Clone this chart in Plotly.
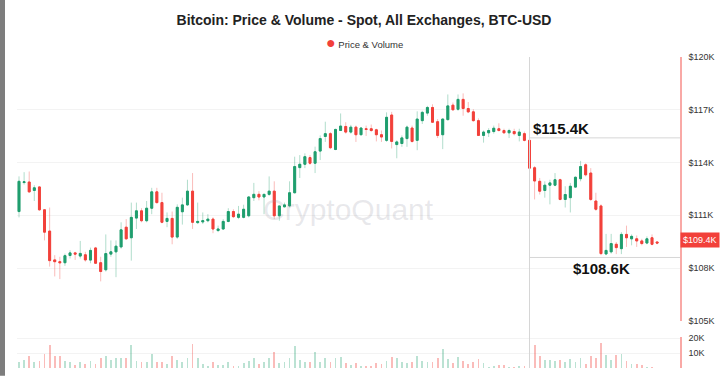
import plotly.graph_objects as go

# ---------------- data (prices in thousands of USD, volume in thousands BTC) -------------
open_k = [111.21,112.86,112.89,112.41,112.61,111.31,110.10,108.46,108.36,108.30,
          108.71,108.86,108.68,108.75,108.45,109.14,108.30,107.90,108.79,108.92,
          109.20,110.32,109.72,110.84,111.25,110.69,111.40,112.33,111.72,110.65,
          110.82,109.76,111.20,111.59,112.37,110.58,110.62,110.69,110.78,110.13,
          110.22,110.65,111.21,110.88,110.88,110.97,112.00,112.19,112.04,112.19,
          112.37,110.97,111.48,111.53,112.28,113.71,113.90,114.28,113.96,114.65,
          115.48,115.64,114.74,115.82,116.05,115.73,116.01,115.58,115.92,115.92,
          115.86,115.58,115.26,116.70,115.02,115.08,115.36,115.96,115.26,116.38,
          116.81,117.13,116.32,115.58,116.44,117.26,117.03,117.59,117.07,116.88,
          116.38,115.54,115.69,115.76,115.92,115.82,115.69,115.76,115.54,115.64,
          115.26,113.70,112.93,112.41,112.71,112.71,113.02,111.90,112.00,112.60,
          113.08,113.87,113.40,111.81,111.53,108.80,108.92,109.35,109.10,109.91,
          109.66,109.66,109.54,109.42,109.72,109.48]
high_k = [113.21,113.45,113.49,112.71,112.65,111.34,111.44,108.73,108.64,108.82,
          109.01,108.92,109.54,108.92,109.16,109.20,108.64,109.91,109.57,109.57,
          110.60,110.78,111.72,111.72,111.40,111.81,112.56,112.56,112.28,111.16,
          111.21,111.62,112.00,113.02,113.40,111.72,111.16,111.06,110.88,110.41,
          110.78,111.40,111.34,111.53,111.60,112.09,112.84,112.37,112.20,113.21,
          112.93,111.53,111.72,112.93,114.33,114.42,114.52,114.42,114.90,115.54,
          116.32,115.73,115.92,116.79,116.29,116.14,116.10,116.01,116.10,116.16,
          115.92,115.82,116.85,116.88,115.26,115.54,116.10,116.10,116.91,116.94,
          117.22,117.31,116.47,116.51,117.87,117.41,117.87,117.93,117.44,117.03,
          116.51,115.82,115.95,116.10,116.23,115.92,115.92,115.92,115.92,115.76,
          115.36,113.80,113.12,112.93,113.02,113.40,113.08,112.65,112.84,113.21,
          114.09,113.96,113.68,112.28,111.62,109.94,109.94,109.48,110.04,110.41,
          109.91,109.85,109.66,109.80,109.91,109.51]
low_k = [110.88,112.74,112.28,111.81,111.25,109.57,108.08,107.52,107.37,108.12,
         108.54,108.46,108.54,108.36,108.27,108.23,107.24,107.80,108.64,107.48,
         109.10,109.61,108.42,110.22,110.60,110.60,111.06,111.66,110.54,110.32,
         109.35,109.66,110.47,111.53,110.22,110.50,110.50,110.60,109.98,110.04,
         110.17,110.60,110.84,110.78,110.82,110.88,111.81,111.85,111.06,112.10,
         110.78,110.69,111.44,111.44,112.24,113.12,113.68,113.87,113.40,114.14,
         115.17,114.76,114.70,115.79,115.64,115.64,115.17,115.54,115.51,115.73,
         115.20,115.17,115.17,114.80,114.24,114.89,114.89,115.13,114.70,116.19,
         116.66,116.25,115.39,114.76,116.38,116.94,116.94,116.66,116.81,116.32,
         115.51,115.13,115.45,115.64,115.76,115.64,115.39,115.54,115.20,115.20,
         113.64,111.90,112.18,112.00,111.62,112.65,111.85,111.44,111.16,112.56,
         112.93,113.21,111.81,111.25,108.73,108.73,108.82,108.79,108.79,109.20,
         109.29,109.20,109.29,109.35,109.29,109.35]
close_k = [112.93,112.90,112.33,112.56,111.31,110.04,108.42,108.36,108.30,108.70,
           108.86,108.79,108.83,108.46,109.00,108.27,107.80,108.82,108.92,109.24,
           110.17,109.66,110.88,111.25,110.69,111.40,112.33,111.72,110.60,110.82,
           109.76,111.45,111.59,112.37,110.60,110.65,110.69,110.78,110.22,110.22,
           110.65,111.21,110.92,111.06,111.34,112.04,112.19,112.04,112.19,112.37,
           110.97,111.53,111.59,112.28,113.77,113.90,114.33,113.96,114.61,115.36,
           115.64,114.84,115.88,116.07,115.73,116.01,115.58,115.96,115.88,115.82,
           115.58,115.45,116.57,115.20,115.17,115.40,116.01,115.20,116.47,116.85,
           117.13,116.29,115.54,116.47,117.22,117.00,117.59,117.07,116.88,116.38,
           115.54,115.73,115.82,115.95,115.82,115.69,115.82,115.64,115.73,115.26,
           113.68,112.95,112.37,112.71,112.84,113.02,111.90,112.18,112.65,113.16,
           113.77,113.30,111.90,111.34,108.82,109.00,109.39,109.16,109.91,109.72,
           109.80,109.54,109.39,109.66,109.35,109.42]
volume_k = [4.4,5.5,8.2,4.0,4.9,10.0,15.5,8.2,8.4,4.9,
            4.0,2.2,4.0,3.3,4.9,3.3,7.1,8.2,5.5,6.7,
            6.7,6.7,15.5,4.9,4.4,4.4,9.6,4.0,4.0,3.3,
            8.2,5.5,4.4,7.3,16.2,7.1,2.9,1.6,4.4,2.2,
            2.2,4.2,1.8,1.8,3.6,5.1,7.3,3.3,4.4,6.7,
            11.1,3.6,4.4,6.7,15.1,5.8,4.4,4.0,11.1,4.0,
            7.3,4.0,6.7,7.8,3.6,2.2,3.6,1.8,1.8,1.8,
            3.6,2.9,5.1,8.0,7.3,4.4,3.6,4.4,8.4,5.1,
            4.0,4.4,7.3,13.3,6.2,3.6,8.0,5.1,3.3,4.4,
            6.2,3.6,1.1,1.8,2.2,2.2,1.3,1.3,1.8,1.8,
            8.4,15.8,8.4,5.5,5.5,4.9,6.0,4.4,6.2,4.4,
            6.7,3.3,8.2,6.7,16.7,9.3,5.5,8.9,10.0,4.9,
            2.7,2.9,2.4,1.3,1.1,0.5]

price_ticks_k = [105, 108, 111, 114, 117, 120]
price_tick_labels = ["$105K", "$108K", "$111K", "$114K", "$117K", "$120K"]
volume_ticks_k = [10, 20]
volume_tick_labels = ["10K", "20K"]

marker_index = 100          # candle where the drop starts
level_high = 115400
level_low = 108600

title_text = "Bitcoin: Price & Volume - Spot, All Exchanges, BTC-USD"
legend_text = "Price & Volume"
watermark_text = "CryptoQuant"

# ---------------- derived --------------------------------------------------------------
n = len(close_k)
xs = list(range(n))
o = [v * 1000 for v in open_k]
h = [v * 1000 for v in high_k]
l = [v * 1000 for v in low_k]
c = [v * 1000 for v in close_k]
vol = [v * 1000 for v in volume_k]
body_top = [max(a, b) for a, b in zip(o, c)]
body_bot = [min(a, b) for a, b in zip(o, c)]

GREEN = "#1f9e6e"
RED = "#f2403a"
GREEN_L = "rgba(31,158,110,0.35)"
RED_L = "rgba(242,64,58,0.35)"
GREEN_V = "rgba(31,158,110,0.30)"
RED_V = "rgba(242,64,58,0.35)"
AXIS_C = "rgba(242,64,58,0.45)"
FONT = "Liberation Sans, Arial, sans-serif"

W, H = 728, 379
ML, MR, MT, MB = 17, 48, 57, 6
plot_w = W - ML - MR
step_px = 5.105
x_first_px = 19
x_min = -(x_first_px - ML) / step_px
x_max = x_min + plot_w / step_px

fig = go.Figure()

# wicks (light)
fig.add_trace(go.Candlestick(
    x=xs, open=o, high=h, low=l, close=c,
    increasing=dict(line=dict(color=GREEN_L, width=1), fillcolor=GREEN_L),
    decreasing=dict(line=dict(color=RED_L, width=1), fillcolor=RED_L),
    whiskerwidth=0, showlegend=False, hoverinfo="skip", yaxis="y"))
# bodies (solid)
fig.add_trace(go.Candlestick(
    x=xs, open=o, high=body_top, low=body_bot, close=c,
    increasing=dict(line=dict(color=GREEN, width=1), fillcolor=GREEN),
    decreasing=dict(line=dict(color=RED, width=1), fillcolor=RED),
    whiskerwidth=0, showlegend=False, name=legend_text, yaxis="y"))
# volume
fig.add_trace(go.Bar(
    x=xs, y=vol, width=0.35,
    marker=dict(color=[GREEN_V if cc >= oo else RED_V for oo, cc in zip(o, c)], line=dict(width=0)),
    showlegend=False, yaxis="y2", hoverinfo="skip"))

plot_h = H - MT - MB
price_bottom_px = 325
vol_top_px = 341
price_dom0 = (H - MB - price_bottom_px) / plot_h
vol_dom1 = (H - MB - vol_top_px) / plot_h

def py(px_from_top):
    return (H - MB - px_from_top) / plot_h

def pxx(px_from_left):
    return (px_from_left - ML) / plot_w

fig.update_layout(
    width=W, height=H,
    margin=dict(l=ML, r=MR, t=MT, b=MB),
    paper_bgcolor="white", plot_bgcolor="white",
    font=dict(family=FONT, color="#333333", size=9),
    title=dict(text="<b>" + title_text + "</b>", x=0.5, xanchor="center",
               y=(H - 20) / H, yanchor="middle",
               font=dict(family=FONT, size=14, color="#222222")),
    showlegend=False,
    boxgap=0.45,
    bargap=0,
    xaxis=dict(range=[x_min, x_max], visible=False, rangeslider=dict(visible=False),
               fixedrange=True),
    yaxis=dict(domain=[price_dom0, 1], range=[105000, 120000], side="right",
               tickvals=[v * 1000 for v in price_ticks_k], ticktext=price_tick_labels,
               showgrid=True, gridcolor="#f3f3f3", gridwidth=1, zeroline=False,
               showline=True, linecolor=AXIS_C, linewidth=1.5,
               ticks="", ticklabelstandoff=5, tickfont=dict(size=9, color="#333333")),
    yaxis2=dict(domain=[0, vol_dom1], range=[0, 21000], side="right",
                tickvals=[v * 1000 for v in volume_ticks_k], ticktext=volume_tick_labels,
                showgrid=True, gridcolor="#f3f3f3", zeroline=False,
                showline=True, linecolor=AXIS_C, linewidth=1.5,
                ticks="", ticklabelstandoff=5, tickfont=dict(size=9, color="#333333")),
)

shapes = [
    dict(type="line", xref="x", yref="paper", x0=marker_index, x1=marker_index, y0=0, y1=1,
         line=dict(color="#d6d6d6", width=1)),
    dict(type="line", xref="x", yref="y", x0=marker_index, x1=x_max, y0=level_high, y1=level_high,
         line=dict(color="#d6d6d6", width=1)),
    dict(type="line", xref="x", yref="y", x0=marker_index, x1=x_max, y0=level_low, y1=level_low,
         line=dict(color="#d6d6d6", width=1)),
    dict(type="rect", xref="paper", yref="paper", x0=pxx(0), x1=pxx(5), y0=py(H + 2), y1=py(-2),
         fillcolor="#7d7d7d", line=dict(width=0), layer="above"),
]
fig.update_layout(shapes=shapes)

annotations = [
    dict(text=watermark_text, xref="paper", yref="paper", x=pxx(348), y=py(212),
         showarrow=False, font=dict(family=FONT, size=30, color="rgba(150,150,165,0.22)")),
    dict(text="<span style='color:%s;font-size:16px'>●</span> %s" % (RED, legend_text),
         xref="paper", yref="paper",
         x=pxx(364), y=py(42), xanchor="center", yanchor="middle", showarrow=False,
         font=dict(family=FONT, size=9.5, color="#333333")),
    dict(text="<b>$%.1fK</b>" % (level_high / 1000), xref="x", yref="y", x=marker_index, y=level_high,
         xanchor="left", yanchor="bottom", xshift=1, yshift=-1, showarrow=False,
         font=dict(family=FONT, size=15, color="#111111")),
    dict(text="<b>$%.1fK</b>" % (level_low / 1000), xref="x", yref="y", x=114.1, y=level_low,
         xanchor="center", yanchor="top", yshift=-1, showarrow=False,
         font=dict(family=FONT, size=15, color="#111111")),
    dict(text="$%.1fK" % (close_k[-1]), xref="paper", yref="y", x=1, y=c[-1],
         xanchor="left", yanchor="middle", yshift=3, showarrow=False,
         bgcolor=RED, borderpad=2, font=dict(family=FONT, size=9, color="white")),
]
fig.update_layout(annotations=annotations)

fig.write_html("out.html", post_script="document.body.style.margin='0';",
               config={"displayModeBar": False})
